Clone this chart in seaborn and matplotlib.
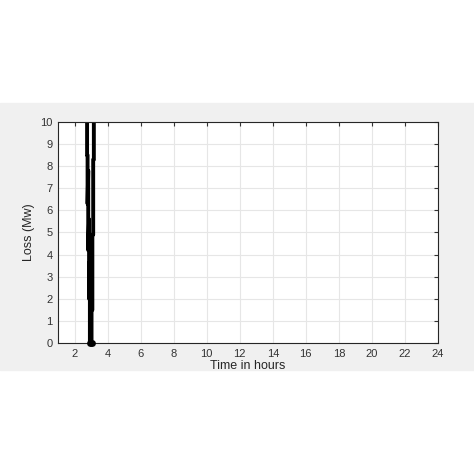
import numpy as np
import pandas as pd
import seaborn as sns
import matplotlib.pyplot as plt
from matplotlib.patches import Rectangle

# loss readings (hours, MW) - most of the curve is above the visible range
time_h = [2.76, 2.76, 2.79, 2.79, 2.83, 2.83, 2.88, 2.88, 2.93, 2.93, 2.98,
          3.03, 3.03, 3.08, 3.08, 3.13, 3.13, 3.17, 3.17]
loss_mw = [11.0, 8.5, 8.5, 6.3, 7.8, 4.2, 5.6, 2.0, 3.7, 0.0, 0.0,
           0.0, 1.5, 1.5, 4.9, 4.9, 8.3, 8.3, 11.0]
marker_t = [2.93, 3.07]
marker_loss = [0.0, 0.0]

x_ticks = list(range(2, 25, 2))
y_ticks = list(range(0, 11))

df = pd.DataFrame({"time": time_h, "loss": loss_mw})

sns.set_style("white")
plt.rcParams['font.family'] = ['Liberation Sans', 'DejaVu Sans']

fig = plt.figure(figsize=(4.74, 4.74), dpi=100)
bg = Rectangle((0, 1 - 370 / 474), 1, (370 - 103) / 474,
               transform=fig.transFigure, color='#f0f0f0', zorder=-10)
fig.add_artist(bg)
ax = fig.add_axes([58 / 474, 1 - 343 / 474, 380 / 474, 221 / 474])
ax.set_zorder(1)
ax.set_facecolor('white')

sns.lineplot(data=df, x="time", y="loss", sort=False, estimator=None,
             color='black', linewidth=2.8, ax=ax)
# flattened dot at the bottom of the curve
ax.plot(marker_t, marker_loss, color='black', linewidth=5, solid_capstyle='round',
        zorder=6, clip_on=False)

ax.set_xlim(1, 24)
ax.set_ylim(0, 10)
ax.set_xticks(x_ticks)
ax.set_yticks(y_ticks)
ax.grid(True, color='#e6e6e6', linewidth=0.8)
ax.tick_params(direction='in', length=3, labelsize=8, colors='#333333',
               top=True, right=True, pad=4)
for s in ax.spines.values():
    s.set_color('#262626')
    s.set_linewidth(0.8)
ax.set_xlabel("Time in hours", fontsize=9, labelpad=1, color='#262626')
ax.set_ylabel("Loss (Mw)", fontsize=9, labelpad=4, color='#262626')

fig.savefig("out.png", dpi=100)
